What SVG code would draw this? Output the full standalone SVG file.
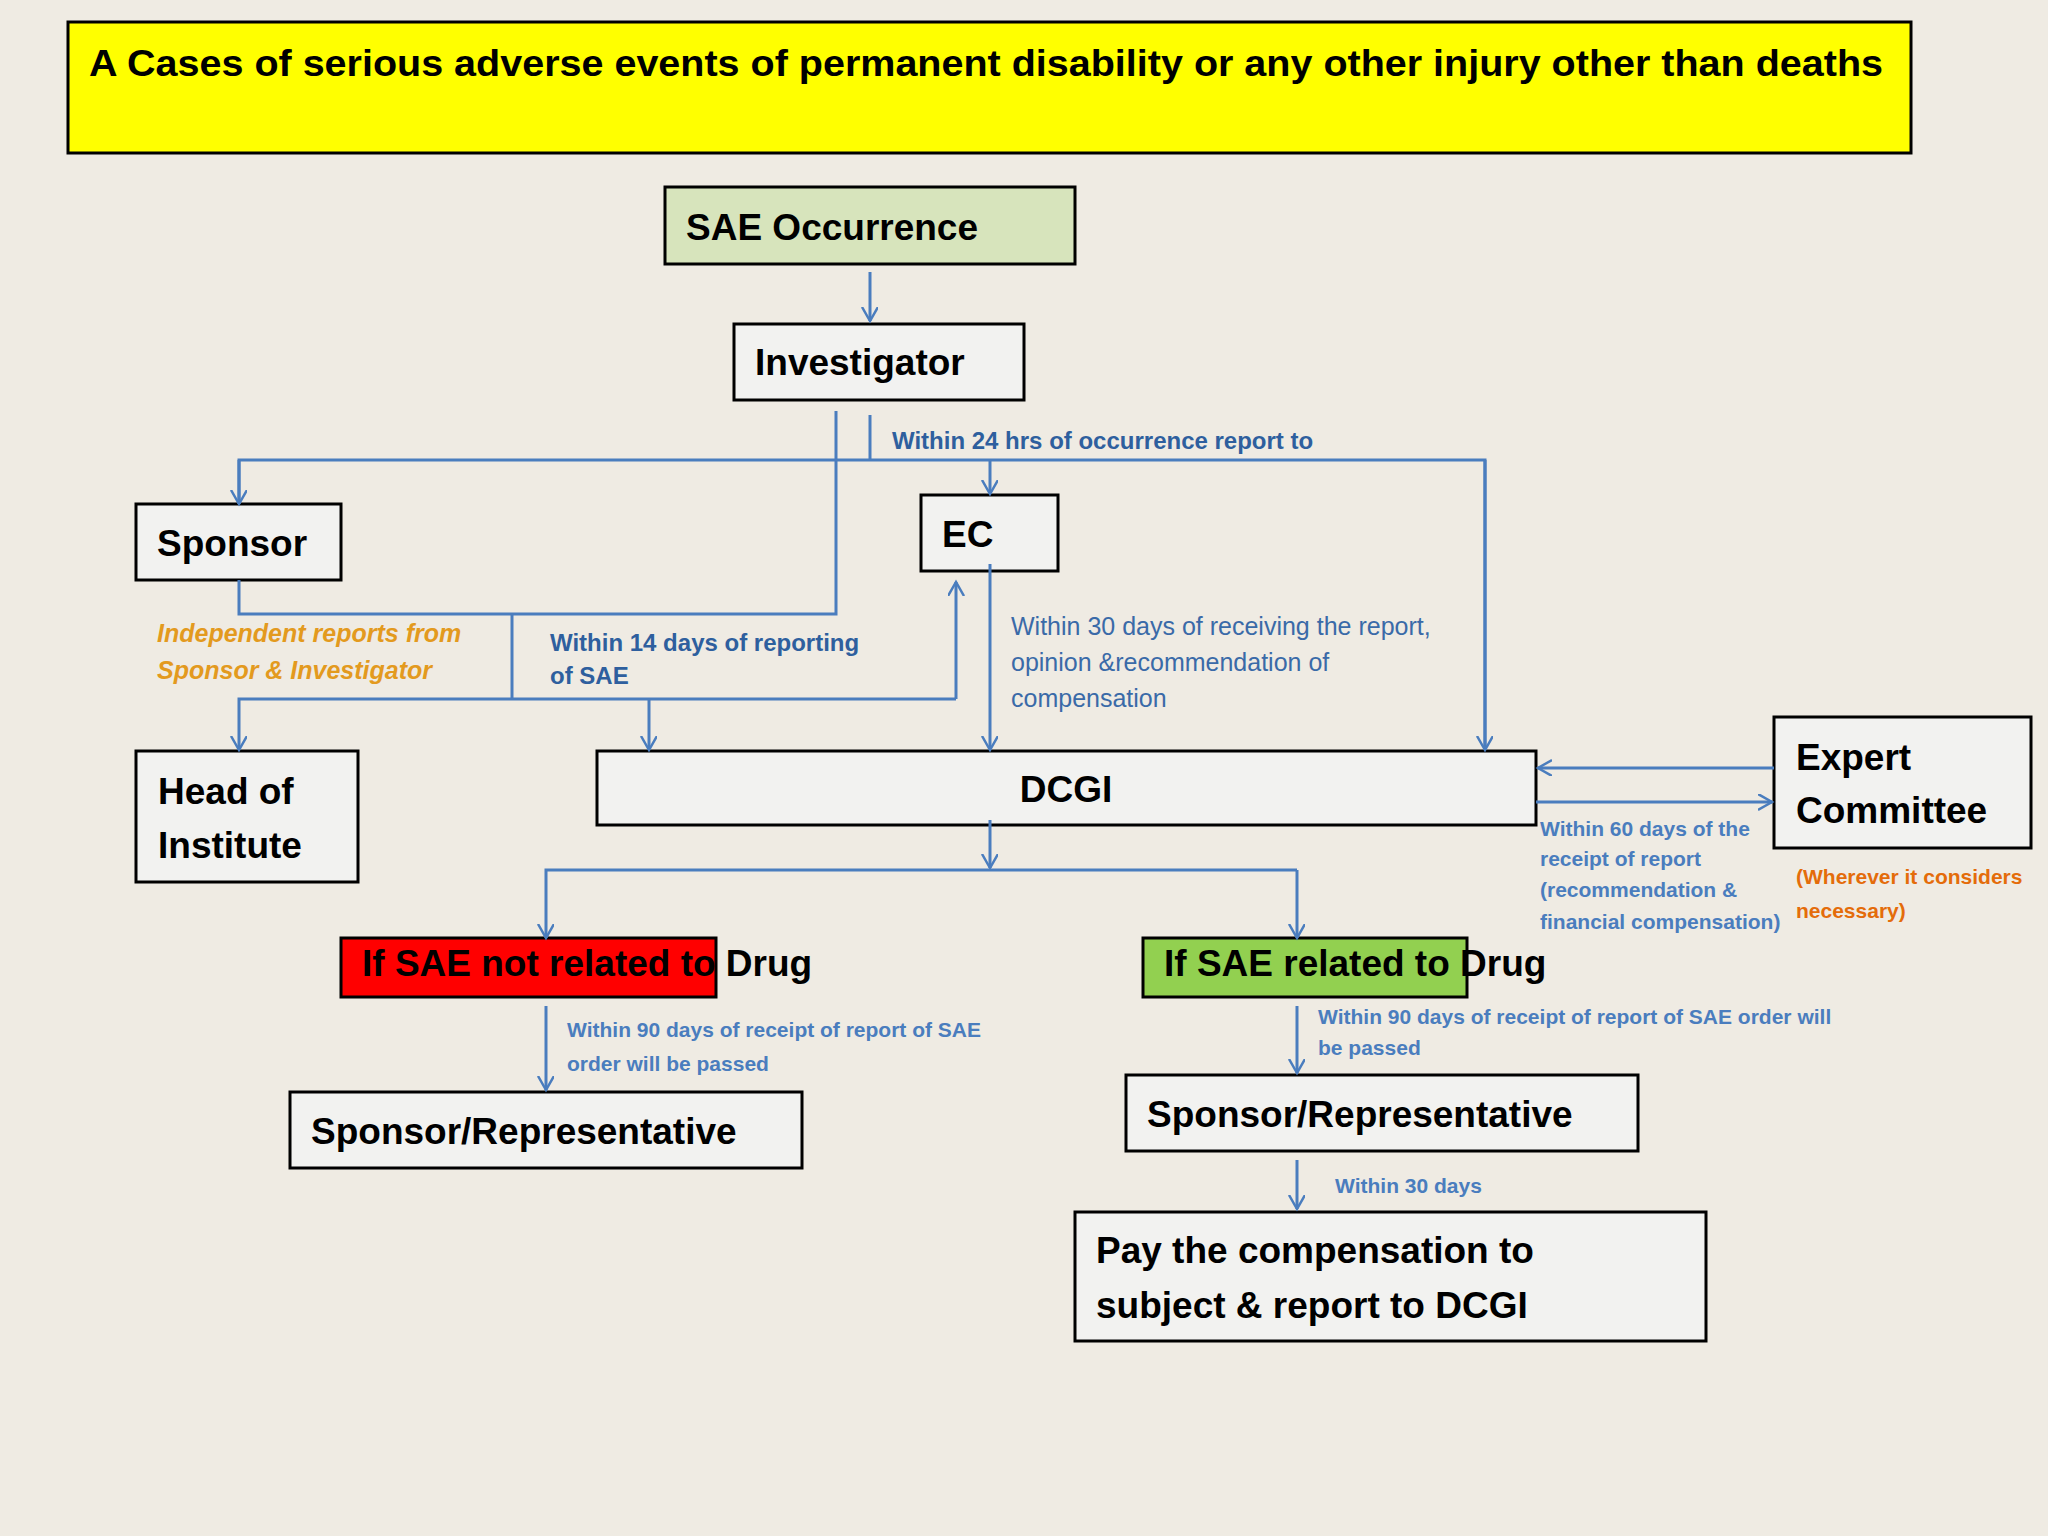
<svg xmlns="http://www.w3.org/2000/svg" width="2048" height="1536" viewBox="0 0 2048 1536">
<defs>
<marker id="a" markerWidth="20" markerHeight="20" refX="14" refY="8" orient="auto" markerUnits="userSpaceOnUse"><path d="M0,0 L14,8 L0,16" fill="none" stroke="#4a7dbe" stroke-width="2.5"/></marker>
<style>
.b{fill:#f2f2f0;stroke:#000;stroke-width:3}
.t{font-family:"Liberation Sans",Arial,sans-serif;font-weight:bold;fill:#000;font-size:37px}
.l{fill:none;stroke:#4a7dbe;stroke-width:3}
.m{marker-end:url(#a)}
.bl{font-family:"Liberation Sans",Arial,sans-serif;font-weight:bold;fill:#2e5f9e;font-size:24px}
.bs{font-family:"Liberation Sans",Arial,sans-serif;font-weight:bold;fill:#4a7dbe;font-size:21px}
</style>
</defs>
<rect width="2048" height="1536" fill="#efebe3"/>
<g id="title"><rect x="68" y="22" width="1843" height="131" fill="#ffff00" stroke="#000" stroke-width="3"/><text x="89" y="76" class="t" font-size="36" textLength="1794" lengthAdjust="spacingAndGlyphs">A Cases of serious adverse events of permanent disability or any other injury other than deaths</text></g>
<g id="sae"><rect x="665" y="187" width="410" height="77" fill="#d7e4bc" stroke="#000" stroke-width="3"/><text x="686" y="240" class="t">SAE Occurrence</text></g>
<g id="investigator"><rect x="734" y="324" width="290" height="76" class="b"/><text x="755" y="375" class="t">Investigator</text></g>
<g id="sponsor"><rect x="136" y="504" width="205" height="76" class="b"/><text x="157" y="556" class="t">Sponsor</text></g>
<g id="ec"><rect x="921" y="495" width="137" height="76" class="b"/><text x="942" y="547" class="t">EC</text></g>
<g id="head"><rect x="136" y="751" width="222" height="131" class="b"/><text x="158" y="804" class="t">Head of</text><text x="158" y="858" class="t">Institute</text></g>
<g id="dcgi"><rect x="597" y="751" width="939" height="74" class="b"/><text x="1066" y="802" class="t" text-anchor="middle">DCGI</text></g>
<g id="expert"><rect x="1774" y="717" width="257" height="131" class="b"/><text x="1796" y="770" class="t">Expert</text><text x="1796" y="823" class="t">Committee</text></g>
<g id="notdrug"><rect x="341" y="938" width="375" height="59" fill="#ff0000" stroke="#000" stroke-width="3"/><text x="362" y="976" class="t" font-size="25">If SAE not related to Drug</text></g>
<g id="drug"><rect x="1143" y="938" width="324" height="59" fill="#92d050" stroke="#000" stroke-width="3"/><text x="1164" y="976" class="t" font-size="25">If SAE related to Drug</text></g>
<g id="rep1"><rect x="290" y="1092" width="512" height="76" class="b"/><text x="311" y="1144" class="t">Sponsor/Representative</text></g>
<g id="rep2"><rect x="1126" y="1075" width="512" height="76" class="b"/><text x="1147" y="1127" class="t">Sponsor/Representative</text></g>
<g id="pay"><rect x="1075" y="1212" width="631" height="129" class="b"/><text x="1096" y="1263" class="t">Pay the compensation to</text><text x="1096" y="1318" class="t">subject &amp; report to DCGI</text></g>
<g id="connectors">
<path class="l m" d="M870,272 V321"/>
<path class="l" d="M836,411 V614 H239 V580"/>
<path class="l" d="M870,415 V460"/>
<path class="l" d="M239,504 V460 H1485 V750"/>
<path class="l m" d="M239,460 V504"/>
<path class="l m" d="M1485,460 V750"/>
<path class="l m" d="M990,460 V494"/>
<path class="l" d="M512,614 V699"/>
<path class="l m" d="M956,699 H239 V750"/>
<path class="l m" d="M649,699 V750"/>
<path class="l m" d="M956,699 V582"/>
<path class="l m" d="M990,564 V750"/>
<path class="l m" d="M1774,768 H1538"/>
<path class="l m" d="M1536,802 H1772"/>
<path class="l m" d="M990,820 V868"/>
<path class="l m" d="M1297,870 H546 V938"/>
<path class="l m" d="M1297,870 V938"/>
<path class="l m" d="M546,1006 V1090"/>
<path class="l m" d="M1297,1006 V1073"/>
<path class="l m" d="M1297,1160 V1209"/>
</g>
<g id="labels">
<text x="892" y="449" class="bl" font-size="25">Within 24 hrs of occurrence report to</text>
<text x="157" y="642" font-family="Liberation Sans,Arial,sans-serif" font-style="italic" font-weight="bold" font-size="25" fill="#e39a1e">Independent reports from</text>
<text x="157" y="679" font-family="Liberation Sans,Arial,sans-serif" font-style="italic" font-weight="bold" font-size="25" fill="#e39a1e">Sponsor &amp; Investigator</text>
<text x="550" y="651" class="bl">Within 14 days of  reporting</text>
<text x="550" y="684" class="bl">of SAE</text>
<g font-family="Liberation Sans,Arial,sans-serif" font-size="25" fill="#3a6aa8">
<text x="1011" y="635">Within 30 days of receiving the report,</text>
<text x="1011" y="671">opinion &amp;recommendation of</text>
<text x="1011" y="707">compensation</text>
</g>
<text x="1540" y="836" class="bs">Within 60 days of the</text>
<text x="1540" y="866" class="bs">receipt of report</text>
<text x="1540" y="897" class="bs">(recommendation &amp;</text>
<text x="1540" y="929" class="bs">financial compensation)</text>
<text x="1796" y="884" class="bs" fill="#e46c0a" style="fill:#e46c0a" font-size="23">(Wherever it considers</text>
<text x="1796" y="918" class="bs" style="fill:#e46c0a" font-size="23">necessary)</text>
<text x="567" y="1037" class="bs" font-size="24">Within 90 days of receipt of report of SAE</text>
<text x="567" y="1071" class="bs" font-size="24">order will be passed</text>
<text x="1318" y="1024" class="bs">Within 90 days of receipt of report of SAE  order will</text>
<text x="1318" y="1055" class="bs">be passed</text>
<text x="1335" y="1193" class="bs" font-size="23">Within 30 days</text>
</g>
</svg>
